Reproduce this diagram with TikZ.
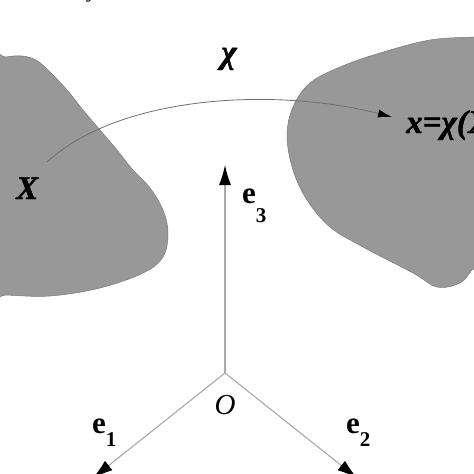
\documentclass[tikz,border=0pt]{standalone}
\usepackage{fontspec}
\setmainfont{Liberation Serif}
\newfontfamily\bix[UprightFont={* Bold Italic}, FakeBold=1.3]{Liberation Serif}
\usetikzlibrary{arrows.meta}
\definecolor{blob}{HTML}{989898}
\definecolor{blobedge}{HTML}{7A7A7A}
\definecolor{axisgray}{HTML}{A8A8A8}
\definecolor{curvegray}{HTML}{6E6E6E}
\tikzset{
  region/.style={fill=blob, draw=blobedge, line width=0.5pt},
  axisline/.style={draw=axisgray, line width=1.1pt, -{Latex[length=20pt,width=12pt,black]}},
  maparrow/.style={draw=curvegray, line width=0.8pt, -{Latex[length=14pt,width=8pt,black]}},
  bilabel/.style={inner sep=0pt, font=\fontsize{33}{33}\bix\selectfont},
  veclabel/.style={inner sep=0pt, font=\fontsize{31}{31}\selectfont\bfseries},
}
\begin{document}
\begin{tikzpicture}[x=1pt,y=-1pt]
\useasboundingbox (0,0) rectangle (474,474);
% left region
\path[region] plot[smooth cycle, tension=0.6] coordinates {
 (-12,62) (6,57) (22,56) (36,60) (50,72) (67,90) (83,110) (100,130) (117,150)
 (133,170) (150,188) (163,210) (168,233) (163,257) (143,273) (100,288) (50,296)
 (6,295) (-12,294) (-20,180)};
% right region
\path[region] plot[smooth cycle, tension=0.6] coordinates {
 (490,36) (474,37) (430,40) (380,53) (340,67) (310,83) (293,107) (287,136)
 (293,170) (307,200) (330,227) (363,247) (413,273) (437,287) (460,283) (472,270)
 (490,250) (500,140)};
% fragment of text above
\node[anchor=base, inner sep=0pt, font=\fontsize{22}{22}\selectfont\itshape] (topy) at (93,-3) {y};
% mapping arrow
\coordinate (Xp) at (47,162);
\coordinate (xp) at (392,117);
\draw[maparrow] (Xp) .. controls (120,95) and (275,87) .. (xp);
\node[bilabel, anchor=base] (chi) at (229,63) {χ};
\node[bilabel, anchor=base west] (Xlab) at (16,199) {X};
\node[bilabel, anchor=base west] (xlab) at (406,133) {x=χ(X)};
% axes
\coordinate (O) at (225,373);
\coordinate (e3tip) at (225,165);
\coordinate (e1tip) at (93,478);
\coordinate (e2tip) at (357,478);
\draw[axisline] (O) -- (e3tip);
\draw[axisline] (O) -- (e1tip);
\draw[axisline] (O) -- (e2tip);
\node[anchor=base, inner sep=0pt, font=\fontsize{29}{29}\selectfont\itshape] (Olab) at (225,414) {O};
\node[veclabel, anchor=base west] (e3lab) at (242,203) {e\raisebox{-19pt}{\fontsize{21}{21}\selectfont 3}};
\node[veclabel, anchor=base west] (e1lab) at (92,433) {e\raisebox{-13pt}{\fontsize{21}{21}\selectfont 1}};
\node[veclabel, anchor=base west] (e2lab) at (346,433) {e\raisebox{-13pt}{\fontsize{21}{21}\selectfont 2}};
\end{tikzpicture}
\end{document}
